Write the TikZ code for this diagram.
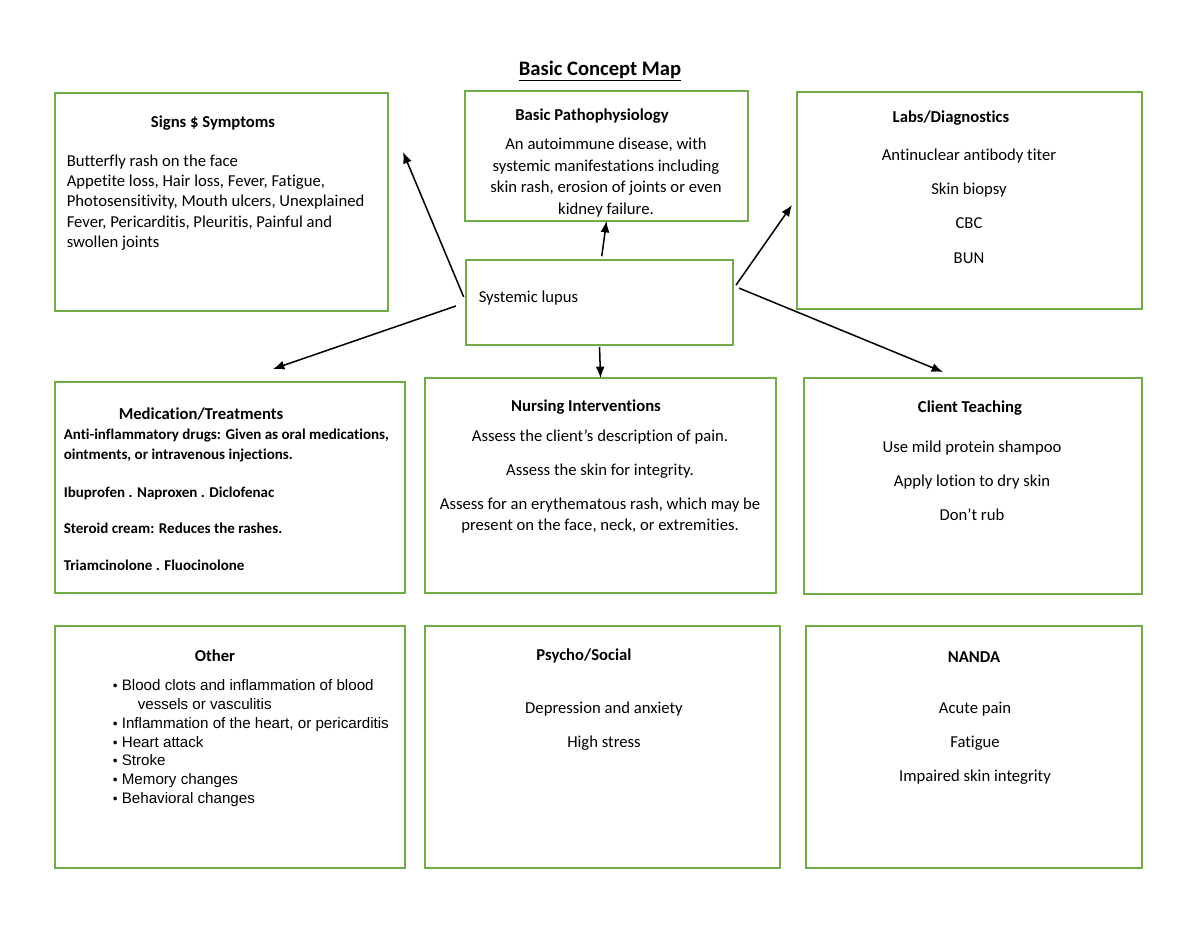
\documentclass[tikz,border=0pt]{standalone}
\usepackage{fontspec}
\setmainfont{Carlito}[Ligatures=NoCommon]
\newfontfamily\arialfont{Liberation Sans}
\usetikzlibrary{arrows.meta, positioning, calc}
\definecolor{boxgreen}{RGB}{112,173,71}

\begin{document}
\begin{tikzpicture}[x=0.66pt, y=-0.66pt, >={Latex[length=7.5pt,width=6pt]}, line width=1pt]

	\tikzset{map box/.style={rectangle, draw=boxgreen, line width=1.3pt,
			inner sep=0pt, outer sep=0pt}}
	\tikzset{box title/.style={inner sep=0pt,
			font=\fontsize{11}{13.4}\selectfont\bfseries}}
	\tikzset{box text/.style={inner sep=0pt, align=center,
			font=\fontsize{11}{13.4}\selectfont}}
	\tikzset{map arrow/.style={->, draw=black, line width=1pt}}

	\useasboundingbox (0,0) rectangle (1200,927);

	\node[font=\fontsize{13.6}{16}\selectfont\bfseries] (maptitle) at (600,71) {\underline{Basic Concept Map}};

	% top row
	\node[map box, minimum width=219.8pt, minimum height=143.9pt] (signs) at (221.5,202) {};
	\node[map box, minimum width=186.8pt, minimum height=85.8pt] (patho) at (606.5,156) {};
	\node[map box, minimum width=227.7pt, minimum height=143.2pt] (labs) at (969.5,200.5) {};
	\node[map box, minimum width=176.2pt, minimum height=56.1pt] (lupus) at (599.5,302.5) {};

	% middle row
	\node[map box, minimum width=231pt, minimum height=139.3pt] (meds) at (230,487.5) {};
	\node[map box, minimum width=231.7pt, minimum height=141.9pt] (nursing) at (600.5,485.5) {};
	\node[map box, minimum width=223.1pt, minimum height=142.6pt] (teaching) at (973,486) {};

	% bottom row
	\node[map box, minimum width=231pt, minimum height=159.7pt] (other) at (230,747) {};
	\node[map box, minimum width=234.3pt, minimum height=159.7pt] (psycho) at (602.5,747) {};
	\node[map box, minimum width=221.8pt, minimum height=159.7pt] (nanda) at (974,747) {};

	% texts
	\node[box title] (signs title) at (213,123) {Signs \$ Symptoms};
	\node[box text, align=left, anchor=north west] (signs text) at (66,154)
		{Butterfly rash on the face\\
		 Appetite loss, Hair loss, Fever, Fatigue,\\
		 Photosensitivity, Mouth ulcers, Unexplained\\
		 Fever, Pericarditis, Pleuritis, Painful and\\
		 swollen joints};

	\node[box title] (patho title) at (592,116) {Basic Pathophysiology};
	\node[box text, anchor=north, font=\fontsize{11}{14.3}\selectfont] (patho text) at (606,137)
		{An autoimmune disease, with\\
		 systemic manifestations including\\
		 skin rash, erosion of joints or even\\
		 kidney failure.};

	\node[box title] (labs title) at (951,118) {Labs/Diagnostics};
	\node[box text, anchor=north] (labs text) at (969,148)
		{Antinuclear antibody titer\\[9.2pt]
		 Skin biopsy\\[9.2pt]
		 CBC\\[9.2pt]
		 BUN};

	\node[box text, anchor=west] (lupus text) at (478,298) {Systemic lupus};

	\node[box title] (meds title) at (201,414) {Medication/Treatments};
	\node[box text, align=left, anchor=north west, font=\fontsize{9.9}{13.2}\selectfont\bfseries] (meds text) at (63,428)
		{Anti-inflammatory drugs: Given as oral medications,\\
		 ointments, or intravenous injections.\\[11.9pt]
		 Ibuprofen . Naproxen . Diclofenac\\[10.6pt]
		 Steroid cream: Reduces the rashes.\\[11.2pt]
		 Triamcinolone . Fluocinolone};

	\node[box title] (nursing title) at (586,407) {Nursing Interventions};
	\node[box text, anchor=north] (nursing text) at (600,429)
		{Assess the client’s description of pain.\\[9.2pt]
		 Assess the skin for integrity.\\[9.2pt]
		 Assess for an erythematous rash, which may be\\
		 present on the face, neck, or extremities.};

	\node[box title] (teaching title) at (970,408) {Client Teaching};
	\node[box text, anchor=north] (teaching text) at (972,440)
		{Use mild protein shampoo\\[9.2pt]
		 Apply lotion to dry skin\\[9.2pt]
		 Don’t rub};

	\node[box title] (other title) at (215,656) {Other};
	\node[box text, align=left, anchor=north west, font=\arialfont\fontsize{10}{12.4}\selectfont] (other text) at (112,679)
		{\makebox[6pt][l]{\small•}Blood clots and inflammation of blood\\
		 \hspace*{16.5pt}vessels or vasculitis\\
		 \makebox[6pt][l]{\small•}Inflammation of the heart, or pericarditis\\
		 \makebox[6pt][l]{\small•}Heart attack\\
		 \makebox[6pt][l]{\small•}Stroke\\
		 \makebox[6pt][l]{\small•}Memory changes\\
		 \makebox[6pt][l]{\small•}Behavioral changes};

	\node[box title] (psycho title) at (584,656) {Psycho/Social};
	\node[box text, anchor=north] (psycho text) at (604,701)
		{Depression and anxiety\\[9.2pt]
		 High stress};

	\node[box title] (nanda title) at (974,657) {NANDA};
	\node[box text, anchor=north] (nanda text) at (975,701)
		{Acute pain\\[9.2pt]
		 Fatigue\\[9.2pt]
		 Impaired skin integrity};

	% arrows out of the centre box
	\coordinate (signs tip) at (403,152);
	\coordinate (meds tip) at (273,369);
	\coordinate (labs tip) at (792,205);
	\coordinate (teaching tip) at (943,372);

	\draw[map arrow, shorten <=4pt] (lupus.west) -- (signs tip);
	\draw[map arrow, shorten <=7pt] (lupus.west) -- (meds tip);
	\draw[map arrow] ([xshift=1.5pt,yshift=2.5pt]lupus.north) -- (patho.south);
	\draw[map arrow] ([xshift=2pt,yshift=11.5pt]lupus.east) -- (labs tip);
	\draw[map arrow] ([xshift=4pt,yshift=9.5pt]lupus.east) -- (teaching tip);
	\draw[map arrow, shorten <=1.3pt] (lupus.south) -- (nursing.north);

\end{tikzpicture}
\end{document}
